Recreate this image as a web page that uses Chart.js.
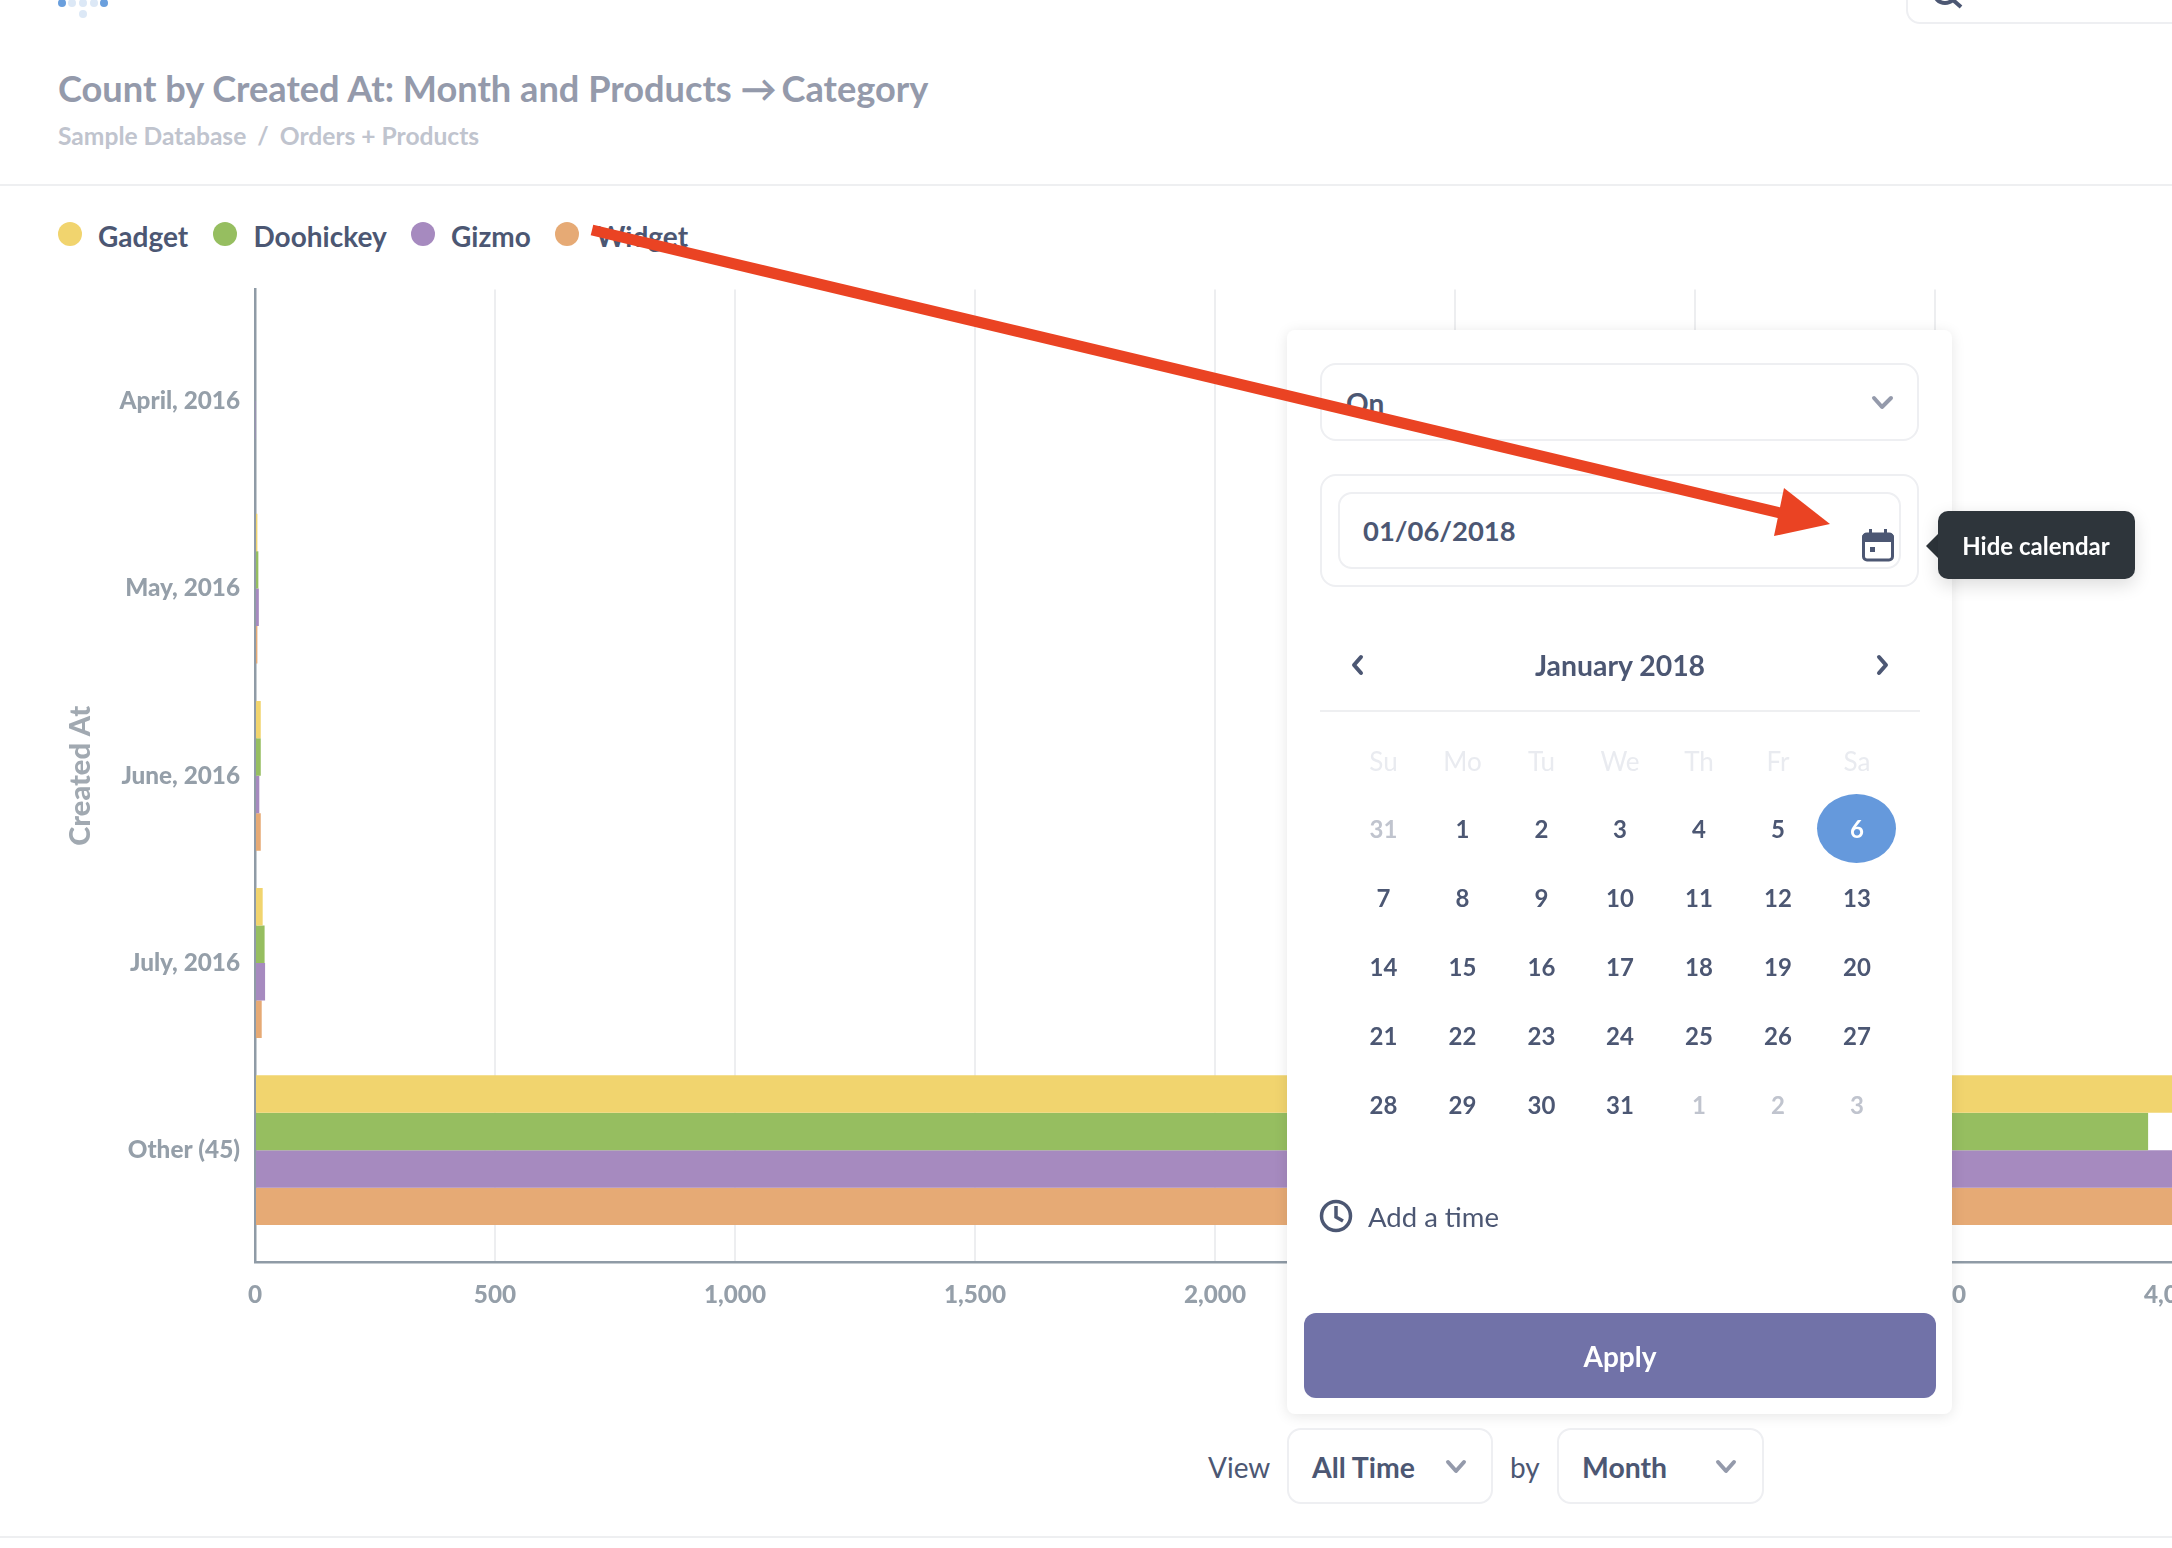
<!DOCTYPE html>
<html>
<head>
<meta charset="utf-8">
<title>Count by Created At</title>
<script src="https://cdn.jsdelivr.net/npm/chart.js@4"></script>
<style>
  html, body { margin: 0; padding: 0; background: #fff; overflow: hidden; width: 2172px; height: 1548px; }
  body { position: relative; font-family: Lato, sans-serif; color: #4c5773; }
  #chart { position: absolute; left: 0; top: 260px; }
  .l, .c { position: absolute; white-space: nowrap; line-height: 1; }
  .l { transform: translateY(-50%); }
  .c { transform: translate(-50%, -50%); }
  .box { position: absolute; box-sizing: border-box; border: 2px solid #eeeff2; border-radius: 14px; background: #fff; }
  .hr { position: absolute; height: 2px; background: #eeeff1; }
  #popover { position: absolute; left: 1287px; top: 330px; width: 665px; height: 1084px; background: #fff; border-radius: 8px;
    box-shadow: 0 2px 14px rgba(0,0,0,0.10); }
  #tooltip { position: absolute; left: 1938px; top: 511px; width: 197px; height: 68px; background: #2e353b; border-radius: 10px;
    box-shadow: 0 6px 18px rgba(0,0,0,0.14); }
  #apply { position: absolute; left: 1304px; top: 1313px; width: 632px; height: 85px; background: #7172a8; border-radius: 12px; }
  #selected { position: absolute; left: 1817px; top: 794px; width: 79px; height: 69px; background: #6599dc; border-radius: 50%; }
  svg.over { position: absolute; left: 0; top: 0; pointer-events: none; }
</style>
</head>
<body>
<canvas id="chart" width="2480" height="1070" style="width:2480px;height:1070px"></canvas>

<!-- page header -->
<div class="l" style="left:58px;top:88px;font-size:36.2px;font-weight:700;color:#949aab">Count by Created At: Month and Products <span style="letter-spacing:-4px">→</span> Category</div>
<div class="l" style="left:58px;top:136px;font-size:24.6px;font-weight:700;color:#c0c4ce">Sample Database<span style="margin:0 11px">/</span>Orders + Products</div>
<div class="hr" style="left:0;top:184px;width:2172px"></div>
<div id="legend"></div>

<!-- date popover -->
<div id="popover"></div>
<div class="box" style="left:1320px;top:363px;width:599px;height:78px;border-radius:16px"></div>
<div class="l" style="left:1346px;top:403px;font-size:28px;font-weight:700">On</div>
<div class="box" style="left:1320px;top:474px;width:599px;height:113px;border-radius:16px"></div>
<div class="box" style="left:1338px;top:492px;width:563px;height:77px;border-radius:14px"></div>
<div class="l" style="left:1363px;top:531px;font-size:27.4px;font-weight:700">01/06/2018</div>
<div class="c" style="left:1620px;top:665px;font-size:28.4px;font-weight:700">January 2018</div>
<div class="hr" style="left:1320px;top:710px;width:600px"></div>
<div id="selected"></div>
<div id="calendar"></div>
<div class="l" style="left:1368px;top:1217px;font-size:27.5px">Add a time</div>
<div id="apply"></div>
<div class="c" style="left:1620px;top:1356px;font-size:28px;font-weight:700;color:#fff">Apply</div>

<!-- view controls -->
<div class="l" style="left:1208px;top:1467px;font-size:28px">View</div>
<div class="box" style="left:1287px;top:1428px;width:206px;height:76px"></div>
<div class="l" style="left:1312px;top:1467px;font-size:28.4px;font-weight:700">All Time</div>
<div class="l" style="left:1510px;top:1467px;font-size:28px">by</div>
<div class="box" style="left:1557px;top:1428px;width:207px;height:76px"></div>
<div class="l" style="left:1582px;top:1467px;font-size:28.4px;font-weight:700">Month</div>
<div class="hr" style="left:0;top:1536px;width:2172px"></div>

<!-- search box cut off by the top edge -->
<div class="box" style="left:1906px;top:-40px;width:300px;height:64px"></div>

<svg class="over" width="2172" height="1548" viewBox="0 0 2172 1548" fill="none">
  <!-- logo dots -->
  <g fill="#dce8f6">
    <circle cx="72" cy="3" r="4"/><circle cx="83" cy="3" r="4"/><circle cx="94" cy="3" r="4"/><circle cx="83" cy="14" r="4"/>
  </g>
  <g fill="#6a9fdd"><circle cx="62" cy="3" r="4"/><circle cx="104" cy="3" r="4"/></g>
  <!-- search icon -->
  <g stroke="#4c5773" stroke-width="4"><circle cx="1945" cy="-8" r="11"/><path d="M1953 0l8 7"/></g>
  <!-- chevrons -->
  <g stroke="#949aab" stroke-width="4" stroke-linecap="round" stroke-linejoin="round">
    <path d="M1874 398l8 9 9-9"/><path d="M1448 1462l8 9 8-9"/><path d="M1718 1462l8 9 8-9"/>
  </g>
  <g stroke="#4c5773" stroke-width="4" stroke-linecap="round" stroke-linejoin="round">
    <path d="M1361 657l-7 8 7 8"/><path d="M1879 657l7 8-7 8"/>
  </g>
  <!-- calendar icon -->
  <rect x="1863.5" y="534" width="29" height="26" rx="3.5" stroke="#4c5773" stroke-width="3"/>
  <path d="M1862 538q0-5 5-5h2v-4h3v4h12v-4h3v4h2q5 0 5 5v4h-32z" fill="#4c5773"/>
  <rect x="1870" y="547" width="5" height="5" fill="#4c5773"/>
  <!-- clock icon -->
  <circle cx="1336" cy="1216" r="14.5" stroke="#4c5773" stroke-width="3.5"/>
  <path d="M1336 1206v11l7 4" stroke="#4c5773" stroke-width="3.5"/>
  <!-- tooltip nub -->
  <path d="M1926 546l13-13v26z" fill="#2e353b"/>
  <!-- annotation arrow -->
  <path d="M592 230L1780 513" stroke="#ea4323" stroke-width="11"/>
  <path d="M1784 488L1830 524L1774 536z" fill="#ea4323"/>
</svg>
<div id="tooltip"></div>
<div class="c" style="left:2036px;top:546px;font-size:24px;font-weight:700;color:#fff">Hide calendar</div>

<script>
const months = ['April, 2016', 'May, 2016', 'June, 2016', 'July, 2016', 'Other (45)'];
const seriesNames = ['Gadget', 'Doohickey', 'Gizmo', 'Widget'];
const seriesColors = ['#f1d46e', '#96be60', '#a68abf', '#e6aa75'];
// Only Doohickey's Other bar ends inside the picture, the other three run off the right edge
const gadgetCounts = [0, 5, 12, 16, 4300];
const doohickeyCounts = [0, 7, 12, 20, 3944];
const gizmoCounts = [1, 8, 9, 21, 4200];
const widgetCounts = [0, 5, 12, 14, 4100];
const xTickValues = [0, 500, 1000, 1500, 2000, 2500, 3000, 3500, 4000];

const weekdays = ['Su', 'Mo', 'Tu', 'We', 'Th', 'Fr', 'Sa'];
const calendarDays = [
  [31, 1, 2, 3, 4, 5, 6],
  [7, 8, 9, 10, 11, 12, 13],
  [14, 15, 16, 17, 18, 19, 20],
  [21, 22, 23, 24, 25, 26, 27],
  [28, 29, 30, 31, 1, 2, 3]
];

function addText(parent, cls, left, top, text, style) {
  const el = document.createElement('div');
  el.className = cls;
  el.textContent = text;
  el.style.cssText = 'left:' + left + 'px;top:' + top + 'px;' + style;
  parent.appendChild(el);
}

// legend, same spacing as the reference
const legend = document.getElementById('legend');
const legendDots = [70, 225, 423, 567];
const legendText = [98, 253.5, 451, 596];
seriesNames.forEach((name, i) => {
  const dot = document.createElement('div');
  dot.style.cssText = 'position:absolute;left:' + (legendDots[i] - 12) + 'px;top:222px;width:24px;height:24px;border-radius:50%;background:' + seriesColors[i];
  legend.appendChild(dot);
  addText(legend, 'l', legendText[i], 236, name, 'font-size:28px;font-weight:700');
});

// calendar grid
const calendar = document.getElementById('calendar');
const colX = [1383.5, 1462.5, 1541.5, 1620, 1699, 1778, 1857];
const rowY = [829, 898, 967, 1036, 1105];
weekdays.forEach((d, i) => addText(calendar, 'c', colX[i], 761, d, 'font-size:26px;color:#e9ebf0'));
calendarDays.forEach((row, r) => row.forEach((d, i) => {
  const outside = (r === 0 && i === 0) || (r === 4 && i > 3);
  const selected = r === 0 && i === 6;
  const color = selected ? '#fff' : outside ? '#c0c4ce' : '#4c5773';
  addText(calendar, 'c', colX[i], rowY[r], d, 'font-size:24px;font-weight:700;color:' + color);
}));

const counts = [gadgetCounts, doohickeyCounts, gizmoCounts, widgetCounts];

new Chart(document.getElementById('chart'), {
  type: 'bar',
  data: {
    datasets: seriesNames.map((name, i) => ({
      label: name,
      data: counts[i].map((v, m) => ({ x: v, y: m })),
      backgroundColor: seriesColors[i],
      categoryPercentage: 0.8,
      barPercentage: 1
    }))
  },
  options: {
    indexAxis: 'y',
    responsive: false,
    animation: false,
    devicePixelRatio: 1,
    layout: { padding: { left: 0, top: 18, right: 65, bottom: 0 } },
    plugins: { legend: { display: false }, tooltip: { enabled: false } },
    scales: {
      x: {
        type: 'linear',
        min: 0,
        max: 4500,
        afterBuildTicks: s => { s.ticks = xTickValues.map(v => ({ value: v })); },
        afterFit: s => { s.height = 68; },
        grid: { color: '#edeef0', lineWidth: 2, drawTicks: false },
        border: { color: '#8f9ba6', width: 2.5 },
        ticks: {
          autoSkip: false,
          maxRotation: 0,
          padding: 19,
          color: '#959fa9',
          font: { family: 'Lato', size: 24.3, weight: '900' },
          callback: v => v.toLocaleString('en-US')
        }
      },
      y: {
        type: 'linear',
        reverse: true,
        offset: false,
        min: -0.597,
        max: 4.597,
        afterBuildTicks: s => { s.ticks = months.map((m, i) => ({ value: i })); },
        afterFit: s => { s.width = 255; },
        grid: { display: false, drawTicks: false, offset: false },
        border: { color: '#8f9ba6', width: 2.5 },
        title: {
          display: true,
          text: 'Created At',
          color: '#a1a9b1',
          font: { family: 'Lato', size: 29, weight: '900' },
          padding: { top: 63, bottom: 0 }
        },
        ticks: {
          autoSkip: false,
          padding: 15,
          color: '#959fa9',
          font: { family: 'Lato', size: 24.3, weight: '900' },
          callback: v => months[v]
        }
      }
    }
  }
});
</script>
</body>
</html>
